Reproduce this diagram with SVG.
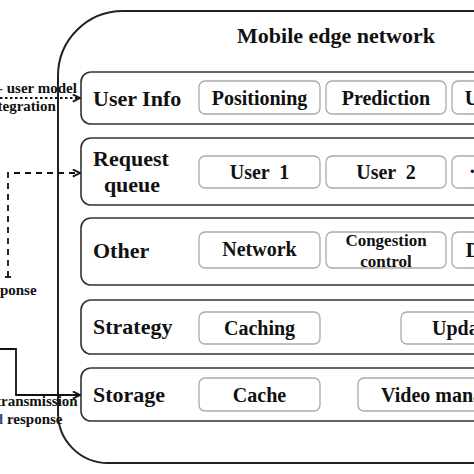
<svg xmlns="http://www.w3.org/2000/svg" width="474" height="474" viewBox="0 0 474 474">
<defs>
<style>
.t{font-family:"Liberation Serif","Times New Roman",serif;font-weight:bold;fill:#111}
.row{fill:#fff;stroke:#333;stroke-width:1.6}
.cell{fill:#fff;stroke:#aaa;stroke-width:1.3}
.lbl{font-size:22px}
.in{font-size:20px;text-anchor:middle}
.side{font-size:15px}
.con{fill:none;stroke:#111;stroke-width:1.8}
</style>
<marker id="arr" viewBox="0 0 10 10" refX="9" refY="5" markerWidth="9" markerHeight="9" markerUnits="userSpaceOnUse" orient="auto">
<path d="M1,1 L9,5 L1,9" fill="none" stroke="#111" stroke-width="2"/>
</marker>
</defs>
<rect width="474" height="474" fill="#fff"/>
<g id="mec">
<path d="M500,11 L123,11 A65,65 0 0 0 58,76 L58,413 A50,50 0 0 0 108,463 L500,463" fill="none" stroke="#222" stroke-width="2"/>
<text class="t" x="336" y="43" font-size="22" text-anchor="middle">Mobile edge network</text>
</g>
<g id="userinfo">
<rect class="row" x="81" y="72" width="420" height="52" rx="10"/>
<text class="t lbl" x="93" y="106">User Info</text>
<rect class="cell" x="199" y="81" width="121" height="33" rx="6"/>
<text class="t in" x="259.5" y="105">Positioning</text>
<rect class="cell" x="326" y="81" width="120" height="33" rx="6"/>
<text class="t in" x="386" y="105">Prediction</text>
<rect class="cell" x="452" y="81" width="60" height="33" rx="6"/>
<text class="t in" x="472" y="105">U</text>
</g>
<g id="request">
<rect class="row" x="81" y="138" width="420" height="67" rx="10"/>
<text class="t lbl" x="131" y="166" text-anchor="middle">Request</text>
<text class="t lbl" x="132" y="192" text-anchor="middle">queue</text>
<rect class="cell" x="199" y="156" width="121" height="32" rx="6"/>
<text class="t in" x="259.5" y="179" xml:space="preserve">User  1</text>
<rect class="cell" x="326" y="156" width="120" height="32" rx="6"/>
<text class="t in" x="386" y="179" xml:space="preserve">User  2</text>
<rect class="cell" x="452" y="156" width="60" height="32" rx="6"/>
<text class="t in" x="479" y="178">···</text>
</g>
<g id="other">
<rect class="row" x="81" y="218" width="420" height="67" rx="10"/>
<text class="t lbl" x="93" y="258">Other</text>
<rect class="cell" x="199" y="232" width="121" height="36" rx="6"/>
<text class="t in" x="259.5" y="256">Network</text>
<rect class="cell" x="326" y="232" width="120" height="36" rx="6"/>
<text class="t" x="386" y="246" font-size="17" text-anchor="middle">Congestion</text>
<text class="t" x="386" y="267" font-size="17" text-anchor="middle">control</text>
<rect class="cell" x="452" y="232" width="60" height="36" rx="6"/>
<text class="t in" x="473" y="257">D</text>
</g>
<g id="strategy">
<rect class="row" x="81" y="300" width="420" height="54" rx="10"/>
<text class="t lbl" x="93" y="334">Strategy</text>
<rect class="cell" x="199" y="312" width="121" height="32" rx="6"/>
<text class="t in" x="259.5" y="335">Caching</text>
<rect class="cell" x="401" y="312" width="120" height="32" rx="6"/>
<text class="t" x="432" y="335" font-size="20">Update</text>
</g>
<g id="storage">
<rect class="row" x="81" y="368" width="420" height="53" rx="10"/>
<text class="t lbl" x="93" y="402">Storage</text>
<rect class="cell" x="199" y="378" width="121" height="33" rx="6"/>
<text class="t in" x="259.5" y="402">Cache</text>
<rect class="cell" x="358" y="378" width="160" height="33" rx="6"/>
<text class="t" x="381" y="402" font-size="20">Video management</text>
</g>
<g id="connectors">
<path class="con" d="M0,98 L80,98" stroke-dasharray="2.5,2.5" marker-end="url(#arr)"/>
<path class="con" d="M8,277 L8,173 L80,173" stroke-dasharray="6,5" marker-end="url(#arr)"/>
<path class="con" d="M5,277 L11,277"/>
<path class="con" d="M0,349 L16,349 L16,395 L80,395" marker-end="url(#arr)"/>
</g>
<g id="side-labels">
<text class="t side" x="-2" y="93"><tspan fill="#2a4a7a">-</tspan> user model</text>
<text class="t side" x="-15" y="111">integration</text>
<text class="t side" x="-19" y="295">response</text>
<text class="t side" x="-4" y="406">transmission</text>
<text class="t side" x="-21" y="424"><tspan fill="#2a4a7a">and</tspan> response</text>
</g>
</svg>
